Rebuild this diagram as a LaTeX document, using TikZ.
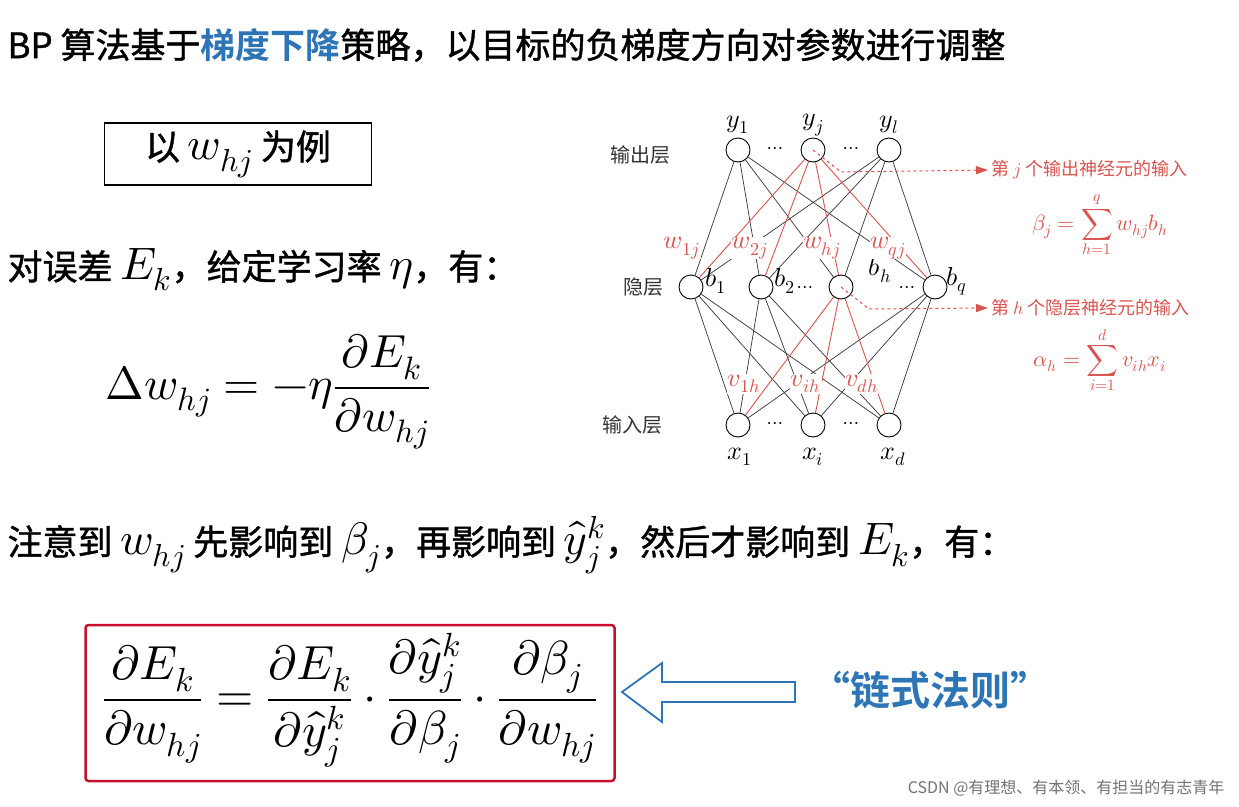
\documentclass[tikz,border=0pt]{standalone}
\usepackage{graphicx}
\usepackage{amsmath}
\usepackage{unicode-math}
\setmathfont{Latin Modern Math}
\newfontfamily\cjk{Noto Sans CJK SC}[FakeBold=1.2]
\newfontfamily\cjkl{Noto Sans CJK SC}
\newfontfamily\cjkb{Noto Sans CJK SC Bold}
\newcommand\mymath[1]{\scalebox{1.45}{$#1$}}
\newcommand\myin[1]{\scalebox{1.3}{$#1$}}
\newcommand\mylab[1]{\scalebox{1.3}{$#1$}}
\usetikzlibrary{arrows.meta}
\definecolor{bblue}{HTML}{2E75B6}
\definecolor{nred}{HTML}{D9534F}
\definecolor{bred}{HTML}{C8102E}
\tikzset{
  neuron/.style={circle,draw,line width=0.9pt,minimum size=24pt,inner sep=0pt},
  edge/.style={draw=black!80,line width=0.7pt},
  redge/.style={draw=nred,line width=0.9pt},
  lay/.style={font=\cjkl\fontsize{20}{20}\selectfont,text=black!80},
  ann/.style={font=\cjkl\fontsize{18}{18}\selectfont,text=nred,anchor=west},
  big/.style={font=\cjk\fontsize{35}{38}\selectfont,anchor=west},
  lab/.style={font=\fontsize{20}{20}\selectfont},
}
\begin{document}
\begin{tikzpicture}[x=1pt,y=-1pt]
\useasboundingbox (0,0) rectangle (1239,806);
\fill[white] (0,0) rectangle (1239,806);
% title
\node[big] (title) at (4,45) {BP 算法基于{\cjkb\textcolor{bblue}{梯度下降}}策略，以目标的负梯度方向对参数进行调整};
% example box
\node[draw,line width=1.3pt,minimum width=267pt,minimum height=62pt,font=\cjk\fontsize{35}{38}\selectfont] (ex) at (238,154) {以 \myin{w_{hj}} 为例};
\node[big] (t2) at (4,270) {对误差 \myin{E_k}，给定学习率 \myin{\eta}，有：};
\node[font=\fontsize{32}{40}\selectfont] (f1) at (268,392) {\mymath{\displaystyle \Delta w_{hj} = -\eta\frac{\partial E_k}{\partial w_{hj}}}};
\node[big] (t3) at (4,545) {注意到 \myin{w_{hj}} 先影响到 \myin{\beta_j}，再影响到 \myin{\hat{y}_j^k}，然后才影响到 \myin{E_k}，有：};
% chain rule box
\node[draw=bred,line width=2.5pt,rounded corners=3pt,minimum width=529pt,minimum height=156pt] (cr) at (350,703) {};
\node[font=\fontsize{33}{40}\selectfont] (f2) at (350,700) {\mymath{\displaystyle \frac{\partial E_k}{\partial w_{hj}} = \frac{\partial E_k}{\partial \hat{y}_j^k}\cdot\frac{\partial \hat{y}_j^k}{\partial \beta_j}\cdot\frac{\partial \beta_j}{\partial w_{hj}}}};
% hollow arrow
\draw[bblue,line width=1.8pt,fill=white,line join=miter] (622,692) -- (662,663) -- (662,682) -- (795,682) -- (795,702) -- (662,702) -- (662,722) -- cycle;
\node[font=\cjkb\fontsize{40}{40}\selectfont,text=bblue] (lk) at (930,690) {“链式法则”};
\node[font=\cjkl\fontsize{16}{16}\selectfont,text=black!55,anchor=east] (wm) at (1228,788) {CSDN @有理想、有本领、有担当的有志青年};
% network
\foreach \n/\x in {y1/738,yj/813,yl/889}{\node[neuron] (\n) at (\x,150) {};}
\foreach \n/\x in {b1/691,b2/761,bh/841,bq/935}{\node[neuron] (\n) at (\x,287) {};}
\foreach \n/\x in {x1/738,xi/813,xd/889}{\node[neuron] (\n) at (\x,425) {};}
\foreach \o in {y1,yl}{\foreach \h in {b1,b2,bh,bq}{\draw[edge] (\o) -- (\h);}}
\foreach \i in {x1,xi,xd}{\foreach \h in {b1,b2,bq}{\draw[edge] (\i) -- (\h);}}
\foreach \h in {b1,b2,bh,bq}{\draw[redge] (yj) -- (\h);}
\foreach \i in {x1,xi,xd}{\draw[redge] (bh) -- (\i);}
% dots
\foreach \p in {775,851}{\node[lab] (d\p) at (\p,150) {$\cdots$}; \node[lab] (e\p) at (\p,425) {$\cdots$};}
\node[lab] (dh) at (805,289) {$\cdots$};
\node[lab] (dh2) at (907,289) {$\cdots$};
% labels
\node[lab] (ly1) at (738,125) {\mylab{y_1}};
\node[lab] (lyj) at (813,125) {\mylab{y_j}};
\node[lab] (lyl) at (889,125) {\mylab{y_l}};
\node[lab] (lx1) at (740,457) {\mylab{x_1}};
\node[lab] (lxi) at (813,457) {\mylab{x_i}};
\node[lab] (lxd) at (893,457) {\mylab{x_d}};
\node[lab] (lb1) at (716,281) {\mylab{b_1}};
\node[lab] (lb2) at (785,281) {\mylab{b_2}};
\node[lab] (lbh) at (880,270) {\mylab{b_h}};
\node[lab] (lbq) at (957,281) {\mylab{b_q}};
\foreach \t/\x/\y in {w_{1j}/682/248,w_{2j}/750/248,w_{hj}/822/248,w_{qj}/888/248,v_{1h}/744/384,v_{ih}/806/384,v_{dh}/862/384}{
  \node[lab,text=nred,fill=white,inner sep=0.5pt] at (\x,\y) {\mylab{\t}};}
\node[lay] (lo) at (640,155) {输出层};
\node[lay] (lh) at (643,287) {隐层};
\node[lay] (li) at (632,425) {输入层};
% annotations
\node[ann] (a1) at (988,170) {第 $j$ 个输出神经元的输入};
\node[ann] (a2) at (988,308) {第 $h$ 个隐层神经元的输入};
\draw[nred,dashed,line width=1pt,-{Triangle[length=12pt,width=8pt]}] (yj.center) -- ++(28,22) -- (a1.west);
\draw[nred,dashed,line width=1pt,-{Triangle[length=12pt,width=8pt]}] (bh.center) -- ++(28,22) -- (a2.west);
\node[text=nred,font=\fontsize{17}{18}\selectfont] (fb) at (1100,225) {\mylab{\displaystyle \beta_j=\sum_{h=1}^{q} w_{hj}b_h}};
\node[text=nred,font=\fontsize{17}{18}\selectfont] (fa) at (1100,360) {\mylab{\displaystyle \alpha_h=\sum_{i=1}^{d} v_{ih}x_i}};
\end{tikzpicture}
\end{document}
